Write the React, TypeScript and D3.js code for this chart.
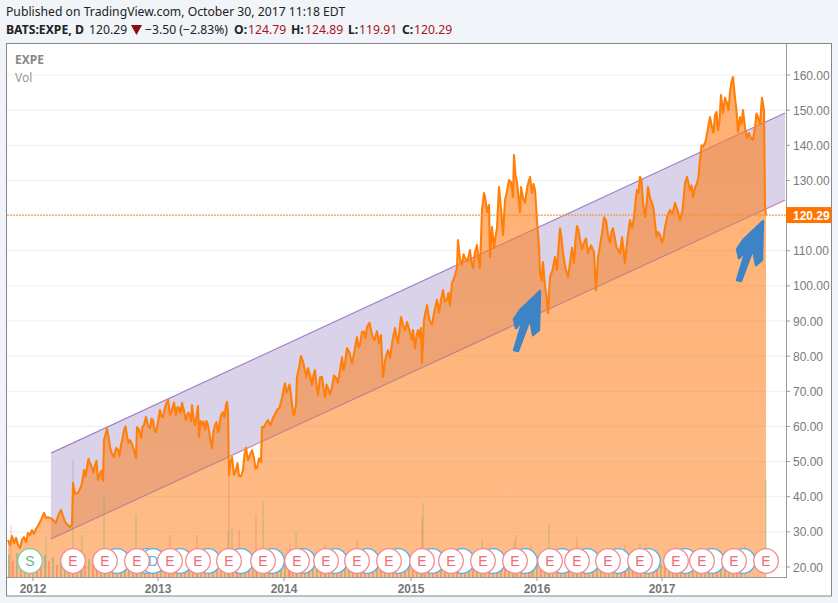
import React from "react";
import * as d3 from "d3";

const headerLine = "Published on TradingView.com, October 30, 2017 11:18 EDT";
const priceTicks = [20, 30, 40, 50, 60, 70, 80, 90, 100, 110, 120, 130, 140, 150, 160];
const yearLabels = ["2012", "2013", "2014", "2015", "2016", "2017"];
const yearBars = [50, 300, 552, 806, 1058, 1308];
const lastPrice = 120.29;

const bars = [0,4,8,12,16,20,24,28,32,36,40,44,48,52,56,60,66,72,76,80,88,96,100,106,114,120,124,128,130,134,140,144,152,158,164,168,174,180,184,190,192,198,204,212,220,226,232,238,244,252,256,258,266,272,276,284,290,296,300,304,310,320,328,336,342,348,356,364,368,374,380,382,388,394,400,408,414,420,424,430,436,440,442,448,456,462,470,476,484,492,498,506,508,512,520,530,538,548,554,560,566,572,576,578,586,594,600,608,614,620,628,634,640,648,656,664,668,674,678,688,698,704,712,718,728,738,742,746,750,760,764,774,780,786,794,798,808,810,814,820,826,828,832,838,848,858,862,870,878,884,888,898,900,908,914,924,930,938,944,948,952,958,962,964,968,972,978,982,990,994,1002,1010,1012,1018,1024,1026,1034,1044,1048,1054,1058,1062,1064,1070,1074,1080,1084,1094,1098,1104,1110,1120,1128,1132,1138,1144,1152,1160,1172,1176,1188,1196,1204,1210,1224,1228,1234,1244,1252,1258,1264,1270,1274,1280,1288,1294,1300,1308,1314,1324,1334,1344,1354,1358,1364,1370,1378,1384,1390,1400,1408,1414,1420,1426,1430,1438,1444,1450,1454,1460,1464,1470,1478,1486,1494,1500,1508,1512,1514,1516];
const closes = [27.7,26.3,28.8,26.8,28.3,26.3,25.4,27.7,28.5,27.1,29.7,29.1,30.5,29.4,30.8,31.7,33.4,35.4,33.9,34.2,33.7,32.5,34.5,36.2,32.8,31.9,31.4,32.2,43.9,40.8,41.1,42.2,47.6,48.2,49.6,48.2,49.0,44.8,46.5,44.5,56.1,59.3,54.1,51.3,53.3,54.7,59.0,57.3,56.1,53.3,51.0,59.8,56.7,60.4,62.7,59.5,61.8,58.4,61.3,64.7,62.7,67.5,64.7,63.2,65.2,66.7,61.8,63.2,66.1,60.4,65.8,57.0,60.4,59.0,60.4,53.9,60.4,58.4,61.8,64.1,66.1,64.1,46.2,51.3,47.6,45.9,47.6,53.9,51.9,51.0,48.2,49.9,59.8,59.8,61.8,62.4,64.7,68.1,72.3,70.4,68.9,63.2,66.1,74.1,80.0,76.0,76.6,71.8,76.0,68.9,74.1,68.4,70.9,71.2,73.8,76.0,79.7,78.0,82.3,78.0,85.4,83.2,86.9,88.3,86.0,87.1,83.7,86.0,74.1,81.7,79.5,88.0,83.7,91.1,87.4,89.7,84.6,87.4,82.3,87.4,88.0,78.0,90.3,94.5,88.9,96.0,92.5,98.8,96.0,94.5,100.8,105.1,113.0,105.9,107.9,110.2,105.1,111.6,105.1,121.6,126.4,121.0,123.0,108.2,116.7,110.8,116.4,128.1,114.5,124.4,130.1,125.3,137.2,129.5,121.0,128.1,123.6,131.0,126.4,127.3,118.7,111.0,103.6,106.8,99.7,92.3,102.5,108.2,104.5,116.4,109.3,102.5,110.8,106.5,117.0,113.0,112.2,109.3,109.6,98.8,115.0,118.7,112.2,116.4,109.3,113.9,106.5,118.7,119.3,127.3,131.0,123.6,119.6,128.1,123.6,117.9,115.3,112.2,116.7,121.6,123.6,118.7,129.2,131.0,127.3,125.3,129.2,135.8,139.5,144.9,145.2,148.6,144.3,154.3,149.2,152.0,155.1,159.4,153.4,143.8,148.0,150.0,142.0,142.0,145.2,148.0,153.5,150.0,122.4,120.29];

const detailBars = [148,155,161,171,177,187,201,208,216,223,229,235,241,248,262,269,280,287,293,307,315,324,332,339,345,352,360,366,371,377,385,391,397,404,411,417,422,427,433,438,445,452,459,466,473,480,488,495,502,516,525,534,543,551,557,563,569,582,590,597,604,611,617,624,631,637,644,652,660,671,683,693,701,708,715,723,733,755,769,777,790,803,817,823,843,853,866,874,881,893,904,911,919,927,934,941,955,975,986,998,1006,1015,1021,1030,1039,1051,1067,1077,1089,1101,1107,1115,1124,1135,1141,1148,1156,1166,1180,1192,1200,1207,1217,1231,1239,1248,1255,1261,1267,1277,1284,1291,1297,1304,1311,1319,1329,1339,1349,1367,1374,1381,1387,1395,1404,1411,1417,1423,1434,1441,1447,1457,1467,1474,1482,1490,1497,1504];
const detailCloses = [43.8,45.8,50.8,46.9,50.2,47.4,57.0,52.2,53.9,51.6,56.4,60.0,55.3,55.0,59.0,59.9,60.2,62.2,58.9,62.9,66.0,63.4,66.8,65.5,63.8,64.4,63.9,61.5,62.4,62.8,61.6,61.4,61.5,56.8,58.6,61.2,59.0,63.5,62.6,67.0,50.0,46.2,49.5,45.8,52.0,50.4,53.2,48.0,50.9,61.0,60.3,63.5,65.3,70.5,69.8,71.9,65.0,76.6,78.4,74.0,74.5,74.6,71.5,74.0,70.8,71.9,69.0,74.5,72.5,76.0,81.0,81.5,82.5,87.0,85.0,89.5,84.5,79.5,84.5,85.5,88.9,87.3,85.8,85.4,90.2,93.0,96.0,95.5,98.0,102.5,107.5,109.0,107.0,106.5,109.5,108.0,124.6,114.0,122.0,127.0,129.5,131.5,125.0,125.0,128.5,129.0,101.5,97.0,104.5,111.0,113.5,105.0,106.5,113.0,116.0,110.5,113.5,111.5,108.0,119.5,114.5,115.5,111.0,110.5,113.5,116.5,124.0,126.5,130.0,123.0,125.0,122.0,114.0,114.5,113.5,120.0,120.5,121.5,121.5,128.5,128.0,131.0,140.0,141.0,148.0,143.5,149.5,147.0,153.5,150.0,158.0,150.0,146.0,145.0,143.5,141.5,149.0,146.0];

const channelBars = [86, 1554];
const channelUpper = [52.4, 149.2];
const channelLower = [28.0, 124.4];

const spikeBars = [6,76,130,148,192,256,324,378,440,442,448,462,496,510,564,576,634,698,828,830,948,1012,1016,1046,1082,1138,1234,1264,1336,1474,1516];
const spikeVols = [2.6,2.0,5.85,2.1,4.15,3.15,2.1,2.1,2.35,5.35,2.45,2.35,3.15,3.8,1.7,2.2,1.7,1.85,2.95,3.7,1.85,1.8,2.1,1.65,2.6,2.0,1.6,1.65,1.55,1.55,4.85];
const spikeUp = [0,1,1,1,1,1,0,0,1,0,1,0,0,1,0,1,1,1,0,1,1,1,0,0,1,0,0,1,0,1,1];

const baseVols = [1.1,0.8,1.2,0.7,1.0,0.6,1.3,0.9,0.7,1.1,0.8,1.0,0.6,0.9,1.2,0.7,0.5,0.8,1.0,0.6,0.9,0.7,0.5,0.8,0.6,1.0,0.7,0.9,0.5,0.6,0.8,0.5,0.7,0.9,0.6,0.5,0.8,0.6,0.7,0.4,0.6,0.5,0.8,0.6,0.5,0.7,0.4,0.6,0.8,0.5,0.6,0.4,0.7,0.5,0.6,0.9,0.5,0.4,0.6,0.7,0.5,0.8,0.4,0.6,0.5,0.7,0.4,0.5,0.6,0.8,0.5,0.4,0.7,0.5,0.6,0.4,0.5,0.7,0.4,0.6,0.5,0.8,0.6,0.4,0.5,0.7,0.4,0.6,0.5,0.4,0.7,0.5,0.6,0.4,0.5,0.8,0.5,0.4,0.6,0.5,0.7,0.4,0.5,0.6,0.4,0.7,0.5,0.4,0.6,0.5,0.8,0.6,0.4,0.7,0.5,0.6,0.4,0.5,0.9,0.6,0.5,0.7,0.4,0.6,0.5,0.8,0.4,0.6,0.7,0.5,0.4,0.6,0.8,0.5,0.6,0.4,0.7,0.5,0.9,0.6,0.4,0.5,0.7,0.6,0.4,0.8,0.5,0.6,0.7,0.4,0.5,0.6,0.8,0.5,0.4,0.7,0.6,0.5,0.4,0.6,0.7,0.5,0.4,0.6,0.5,0.8,0.4,0.5,0.6,0.4,0.7,0.5,0.6,0.4,0.5,0.7,0.6,0.4,0.5,0.6,0.8,0.5,0.4,0.6];
const baseStep = 8;

const earningsBars = [130,194,258,324,380,442,510,578,636,698,762,828,886,950,1014,1084,1138,1200,1264,1336,1388,1452,1516];
const dividendBars = [218,276,344,400,466,528,590,654,718,780,848,908,970,1034,1108,1158,1220,1280,1354,1408,1470];
const dividendLetterBar = 290;
const splitBar = 44;

const arrowTips = [[1064, 98.5], [1510, 118.4]];
const arrowShape = [[0,0],[-1,39],[-7,44],[-10,28],[-22,60],[-26,59],[-17,29],[-24,37],[-26,28],[-20,19]];

const W = 838, H = 603;
const plot = { left: 7, right: 786, top: 44, bottom: 577 };
const x = d3.scaleLinear().domain([0, 1516]).range([8, 766]);
const y = d3.scaleLinear().domain([20, 160]).range([567, 75]);
const v = d3.scaleLinear().domain([0, 6]).range([577, 457]);

const ORANGE = "#ff7f0a";
const sans = "'Liberation Sans', Arial, sans-serif";
const head = "'Noto Sans', sans-serif";

export default function App() {
  const points = [
    ...bars.map((b, i) => [b, closes[i]] as [number, number]),
    ...detailBars.map((b, i) => [b, detailCloses[i]] as [number, number]),
  ].sort((a, b) => a[0] - b[0]);
  const line = d3.line<[number, number]>().x(d => x(d[0])).y(d => y(d[1]));
  const area = d3.area<[number, number]>().x(d => x(d[0])).y0(plot.bottom).y1(d => y(d[1]));
  const cx0 = x(channelBars[0]), cx1 = x(channelBars[1]);
  const channel = `M${cx0},${y(channelUpper[0])}L${cx1},${y(channelUpper[1])}L${cx1},${y(channelLower[1])}L${cx0},${y(channelLower[0])}Z`;
  const GREEN_V = "rgba(90,170,110,0.42)", RED_V = "rgba(244,90,90,0.42)";

  const circle = (b: number, stroke: string, letter: string, color: string, key: string) => (
    <g key={key} transform={`translate(${x(b)},561)`}>
      <circle r={12.3} fill="#fff" stroke={stroke} strokeWidth={1.3} />
      {letter && (
        <text textAnchor="middle" y={5} fontFamily={sans} fontSize={14} fill={color}>{letter}</text>
      )}
    </g>
  );

  return (
    <svg width={W} height={H} viewBox={`0 0 ${W} ${H}`} style={{ position: "absolute", left: 0, top: 0 }}>
      <defs>
        <linearGradient id="areaFill" gradientUnits="userSpaceOnUse" x1={0} x2={0} y1={75} y2={577}>
          <stop offset="0" stopColor="#ff7f1b" stopOpacity={0.63} />
          <stop offset="1" stopColor="#ff7f1b" stopOpacity={0.52} />
        </linearGradient>
      </defs>
      <rect width={W} height={H} fill="#f1f4f8" />
      <rect x={6.5} y={43.5} width={825} height={552.5} fill="#fff" stroke="#868686" strokeWidth={1} />

      <text x={6} y={16} fontFamily={head} fontSize={12.2} fill="#222">{headerLine}</text>
      <text y={34} fontFamily={head} fontSize={12.2} fill="#222">
        <tspan x={6} fontWeight="bold">BATS:EXPE, D</tspan>
        <tspan x={89}>120.29</tspan>
        <tspan x={145}>−3.50 (−2.83%)</tspan>
        <tspan x={234} fontWeight="bold">O:</tspan>
        <tspan x={248} fill="#a5171c">124.79</tspan>
        <tspan x={291} fontWeight="bold">H:</tspan>
        <tspan x={305} fill="#a5171c">124.89</tspan>
        <tspan x={348} fontWeight="bold">L:</tspan>
        <tspan x={359} fill="#a5171c">119.91</tspan>
        <tspan x={402} fontWeight="bold">C:</tspan>
        <tspan x={414} fill="#a5171c">120.29</tspan>
      </text>
      <path d="M131,25L142,25L136.5,35Z" fill="#8b0f10" />

      {priceTicks.map(t => (
        <line key={t} x1={plot.left} x2={plot.right} y1={y(t)} y2={y(t)} stroke="#e9f0f5" strokeWidth={1} />
      ))}

      <path d={channel} fill="#d9d2e9" />
      <line x1={cx0} x2={cx1} y1={y(channelUpper[0])} y2={y(channelUpper[1])} stroke="#a182c4" strokeWidth={1.2} />

      <path d={area(points) || ""} fill="url(#areaFill)" />
      <line x1={cx0} x2={cx1} y1={y(channelLower[0])} y2={y(channelLower[1])} stroke="#b0788c" strokeOpacity={0.75} strokeWidth={1.2} />

      {baseVols.map((val, i) => (
        <rect key={i} x={x(i * baseStep)} width={1.8} y={v(val)} height={plot.bottom - v(val)}
          fill={i > 0 && val < baseVols[i - 1] ? RED_V : GREEN_V} />
      ))}
      {spikeBars.map((b, i) => (
        <rect key={b} x={x(b) - 0.5} width={1} y={v(spikeVols[i])} height={plot.bottom - v(spikeVols[i])}
          fill={spikeUp[i] ? GREEN_V : RED_V} />
      ))}

      <path d={line(points) || ""} fill="none" stroke={ORANGE} strokeWidth={2.1} strokeLinejoin="round" />

      <line x1={plot.left} x2={plot.right} y1={y(lastPrice) + 0.5} y2={y(lastPrice) + 0.5} stroke="#ff8a20" strokeWidth={1} strokeDasharray="2 1" />

      {arrowTips.map(([b, p], i) => (
        <path key={i} transform={`translate(${x(b)},${y(p)})`}
          d={`M${arrowShape.map(s => s.join(",")).join("L")}Z`}
          fill="#3d84c6" stroke="#3d84c6" strokeWidth={2.4} strokeLinejoin="round" />
      ))}

      {circle(splitBar, "#7ecba1", "S", "#63b98a", "split")}
      {dividendBars.map(b => circle(b, "#55aee8", "", "", `d${b}`))}
      {circle(dividendLetterBar, "#55aee8", "D", "#55aee8", "dl")}
      {earningsBars.map(b => circle(b, "#f28b90", "E", "#ee6b78", `e${b}`))}

      <line x1={plot.right + 0.5} x2={plot.right + 0.5} y1={plot.top} y2={plot.bottom} stroke="#999" strokeWidth={1} />
      <line x1={plot.left} x2={plot.right + 1} y1={plot.bottom + 0.5} y2={plot.bottom + 0.5} stroke="#999" strokeWidth={1} />

      {priceTicks.map(t => (
        <g key={t}>
          <line x1={plot.right} x2={plot.right + 4} y1={y(t)} y2={y(t)} stroke="#999" />
          <text x={793} y={y(t) + 4.6} fontFamily={sans} fontSize={12} fill="#7a7a7a">{t.toFixed(2)}</text>
        </g>
      ))}
      <rect x={plot.right} y={y(lastPrice) - 7.5} width={45.5} height={16} fill="#ff7400" />
      <text x={793} y={y(lastPrice) + 5} fontFamily={sans} fontSize={12} fontWeight="bold" fill="#fff">{lastPrice.toFixed(2)}</text>

      {yearLabels.map((l, i) => (
        <g key={l}>
          <line x1={x(yearBars[i])} x2={x(yearBars[i])} y1={plot.bottom} y2={plot.bottom + 4} stroke="#999" />
          <text x={x(yearBars[i])} y={593} textAnchor="middle" fontFamily={sans} fontSize={12} fontWeight="bold" fill="#777">{l}</text>
        </g>
      ))}

      <text x={15} y={64} fontFamily={head} fontSize={12} fontWeight="bold" fill="#888">EXPE</text>
      <text x={15} y={82} fontFamily={head} fontSize={12} fill="#999">Vol</text>
    </svg>
  );
}
